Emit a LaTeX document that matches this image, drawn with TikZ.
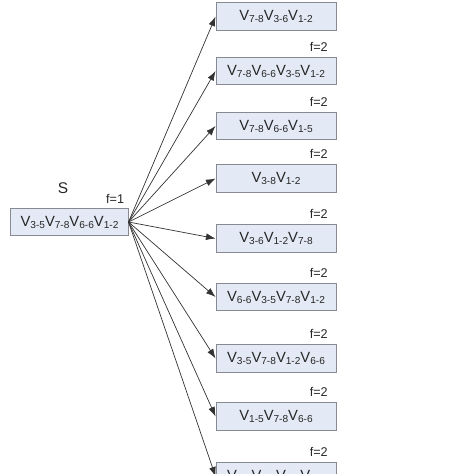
\documentclass[tikz,border=0pt]{standalone}
\usepackage{fontspec}
\setmainfont{Liberation Sans}
\usetikzlibrary{arrows.meta,positioning}
\definecolor{boxfill}{RGB}{228,234,245}
\definecolor{boxline}{RGB}{135,138,145}
\newcommand{\Vsub}[1]{V\raisebox{-0.25ex}{\fontsize{7.2}{8}\selectfont #1}}

\begin{document}
\begin{tikzpicture}[
  x=0.025cm, y=-0.025cm,
  state/.style={
    draw=boxline,
    fill=boxfill,
    line width=0.6pt,
    minimum width=3cm,
    minimum height=0.68cm,
    inner sep=0pt,
    font=\fontsize{10.5}{12}\selectfont,
    text=black!85
  },
  root/.style={state,minimum width=2.93cm},
  fval/.style={font=\fontsize{9}{10}\selectfont,inner sep=0pt,text=black!85},
  branch/.style={
    draw=black!80,
    line width=0.5pt,
    -{Latex[length=2.4mm,width=1.7mm]}
  }
]
\useasboundingbox (0,0) rectangle (474,474);
\clip (0,0) rectangle (474,474);

% Start state
\node[root] (s0) at (69.5,222) {\Vsub{3-5}\Vsub{7-8}\Vsub{6-6}\Vsub{1-2}};
\node[font=\fontsize{11}{12}\selectfont,text=black!85] (slabel) at (63,188) {S};
\node[fval,anchor=south east] (f0) at ([xshift=-3pt,yshift=3pt]s0.north east) {f=1};

% Successor states
\node[state] (c1) at (276,16.5) {\Vsub{7-8}\Vsub{3-6}\Vsub{1-2}};
\node[state] (c2) at (276,71) {\Vsub{7-8}\Vsub{6-6}\Vsub{3-5}\Vsub{1-2}};
\node[state] (c3) at (276,126) {\Vsub{7-8}\Vsub{6-6}\Vsub{1-5}};
\node[state] (c4) at (276,178.5) {\Vsub{3-8}\Vsub{1-2}};
\node[state] (c5) at (276,238.5) {\Vsub{3-6}\Vsub{1-2}\Vsub{7-8}};
\node[state] (c6) at (276,297) {\Vsub{6-6}\Vsub{3-5}\Vsub{7-8}\Vsub{1-2}};
\node[state] (c7) at (276,358.5) {\Vsub{3-5}\Vsub{7-8}\Vsub{1-2}\Vsub{6-6}};
\node[state] (c8) at (276,416.5) {\Vsub{1-5}\Vsub{7-8}\Vsub{6-6}};
\node[state] (c9) at (276,476.5) {\Vsub{3-5}\Vsub{1-2}\Vsub{7-8}\Vsub{6-6}};

% Cost labels
\node[fval,anchor=south east] (f2) at ([xshift=-6pt,yshift=4pt]c2.north east) {f=2};
\node[fval,anchor=south east] (f3) at ([xshift=-6pt,yshift=4pt]c3.north east) {f=2};
\node[fval,anchor=south east] (f4) at ([xshift=-6pt,yshift=4pt]c4.north east) {f=2};
\node[fval,anchor=south east] (f5) at ([xshift=-6pt,yshift=4pt]c5.north east) {f=2};
\node[fval,anchor=south east] (f6) at ([xshift=-6pt,yshift=4pt]c6.north east) {f=2};
\node[fval,anchor=south east] (f7) at ([xshift=-6pt,yshift=4pt]c7.north east) {f=2};
\node[fval,anchor=south east] (f8) at ([xshift=-6pt,yshift=4pt]c8.north east) {f=2};
\node[fval,anchor=south east] (f9) at ([xshift=-6pt,yshift=4pt]c9.north east) {f=2};

% Expansion
\draw[branch] (s0.east) -- (c1.west);
\draw[branch] (s0.east) -- (c2.west);
\draw[branch] (s0.east) -- (c3.west);
\draw[branch] (s0.east) -- (c4.west);
\draw[branch] (s0.east) -- (c5.west);
\draw[branch] (s0.east) -- (c6.west);
\draw[branch] (s0.east) -- (c7.west);
\draw[branch] (s0.east) -- (c8.west);
\draw[branch] (s0.east) -- (c9.west);

\end{tikzpicture}
\end{document}
